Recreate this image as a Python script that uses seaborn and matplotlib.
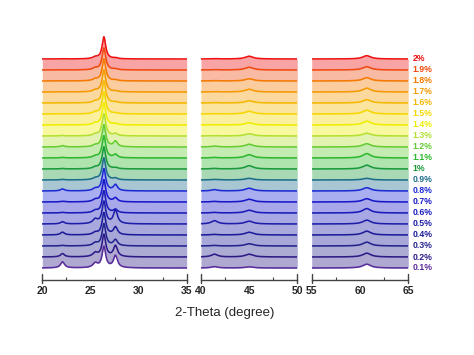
import numpy as np
import pandas as pd
import matplotlib
matplotlib.use("Agg")
import matplotlib.pyplot as plt
import matplotlib.transforms as mtransforms
import seaborn as sns

# ---------------- data (index 0 = bottom, 0.1%) ----------------
labels = ['0.1%', '0.2%', '0.3%', '0.4%', '0.5%', '0.6%', '0.7%', '0.8%', '0.9%', '1%',
          '1.1%', '1.2%', '1.3%', '1.4%', '1.5%', '1.6%', '1.7%', '1.8%', '1.9%', '2%']
colors = ['#5a2d9c', '#2e1a87', '#23238f', '#1c1c99', '#1e1ea8', '#1a1ab8', '#1818c8',
          '#1c2ad6', '#1d6e8c', '#1a9a3a', '#2eb82e', '#66cc33', '#b3e033', '#eeee00',
          '#f5d800', '#f5b800', '#f59a00', '#f57a00', '#f04a10', '#ee1111']

peak_pos = [22.1, 25.5, 26.4, 27.6, 41.4, 45.0, 60.7]
peak_fwhm = [0.5, 0.6, 0.45, 0.5, 0.8, 1.0, 1.0]
h221 = [0.55, 0.30, 0.05, 0.25, 0.20, 0.05, 0.06, 0.18, 0.05, 0.04,
        0.05, 0.12, 0.04, 0.03, 0.03, 0.02, 0.02, 0.02, 0.02, 0.02]
h255 = [0.40, 0.35, 0.25, 0.20, 0.40, 0.20, 0.20, 0.20, 0.15, 0.15,
        0.15, 0.15, 0.15, 0.15, 0.15, 0.15, 0.15, 0.15, 0.15, 0.15]
h264 = [1.9, 2.0, 2.0, 2.0, 2.0, 2.0, 2.0, 2.0, 2.0, 2.0,
        2.0, 2.0, 2.0, 2.0, 2.0, 2.0, 2.0, 2.0, 2.0, 2.0]
h276 = [1.10, 1.00, 0.55, 0.70, 1.25, 0.30, 0.35, 0.55, 0.15, 0.10,
        0.30, 0.50, 0.20, 0.10, 0.08, 0.08, 0.08, 0.08, 0.08, 0.08]
h414 = [0.12, 0.25, 0.05, 0.05, 0.30, 0.05, 0.05, 0.12, 0.05, 0.05,
        0.05, 0.08, 0.03, 0.03, 0.03, 0.03, 0.03, 0.03, 0.03, 0.03]
h450 = [0.10, 0.25, 0.20, 0.25, 0.25, 0.25, 0.25, 0.25, 0.15, 0.30,
        0.30, 0.25, 0.20, 0.20, 0.25, 0.20, 0.25, 0.20, 0.25, 0.25]
h607 = [0.35, 0.35, 0.35, 0.35, 0.35, 0.40, 0.30, 0.30, 0.15, 0.35,
        0.40, 0.30, 0.25, 0.35, 0.35, 0.30, 0.35, 0.30, 0.30, 0.30]
heights = [h221, h255, h264, h276, h414, h450, h607]

panel_ranges = [(20, 35), (40, 50), (55, 65)]
panel_ticks = [[20, 25, 30, 35], [40, 45, 50], [55, 60, 65]]

# ---------------- figure ----------------
sns.set_theme(style="white")
plt.rcParams['font.family'] = ['Liberation Sans', 'DejaVu Sans']

W, H = 474, 355
fig = plt.figure(figsize=(W / 100, H / 100), dpi=100)
px = [(42.3, 186.7), (201.0, 297.3), (311.7, 408.3)]
y_bot, y_top = 280.0, 30.0
spacing_px = 11.0
base0_px = 268.0
ylim = (-(y_bot - base0_px) / spacing_px, (base0_px - y_top) / spacing_px)

n = len(labels)
for k, ((x0, x1), (a, b)) in enumerate(zip(px, panel_ranges)):
    ax = fig.add_axes([x0 / W, 1 - y_bot / H, (x1 - x0) / W, (y_bot - y_top) / H])
    x = np.linspace(a, b, 1500)
    curves = []
    for i in range(n):
        y = np.full_like(x, float(i))
        for p, w, hs in zip(peak_pos, peak_fwhm, heights):
            y += hs[i] / (1 + ((x - p) / (w / 2)) ** 2)
        curves.append(y)
    for i in range(1, n):
        lower = np.minimum(curves[i], curves[i - 1])
        ax.fill_between(x, curves[i], lower, color=colors[i], alpha=0.38, linewidth=0)
    for i in range(n):
        df = pd.DataFrame({'x': x, 'y': curves[i]})
        sns.lineplot(data=df, x='x', y='y', ax=ax, color=colors[i], linewidth=1.15,
                     estimator=None, sort=False)
    ax.set_xlim(a, b)
    ax.set_ylim(*ylim)
    ax.set_xlabel('')
    ax.set_ylabel('')
    ax.set_yticks([])
    for s in ['top', 'left', 'right']:
        ax.spines[s].set_visible(False)
    ax.spines['bottom'].set_color('#444444')
    ax.spines['bottom'].set_linewidth(1.0)
    ax.set_xticks(panel_ticks[k])
    ax.set_xticks(np.arange(a + 2.5, b, 5), minor=True)
    ax.tick_params(axis='x', which='major', direction='in', length=4, width=1,
                   color='#444444', labelsize=7.5, pad=4)
    ax.tick_params(axis='x', which='minor', direction='in', length=2.5, width=0.8,
                   color='#444444', bottom=True)
    for t in ax.get_xticklabels():
        t.set_fontweight('bold')
    # end caps of the broken axis
    tr = mtransforms.blended_transform_factory(ax.transAxes, ax.transAxes)
    for xe in (0, 1):
        ax.plot([xe, xe], [-0.012, 0.025], transform=tr, color='#444444',
                linewidth=1.0, clip_on=False)
    if k == 2:
        ttr = mtransforms.blended_transform_factory(ax.transAxes, ax.transData)
        for i in range(n):
            ax.text(1.045, i, labels[i], transform=ttr,
                    color=colors[i], fontsize=6.2, fontweight='bold', va='center', ha='left')

fig.text(225 / W, 1 - 313 / H, '2-Theta (degree)', ha='center', va='center', fontsize=9.5)
fig.savefig('out.png', dpi=100)
